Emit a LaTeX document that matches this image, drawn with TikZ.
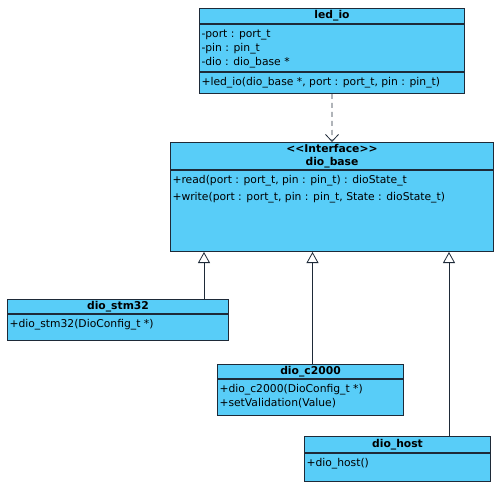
\documentclass[tikz,border=0pt]{standalone}
\usepackage{fontspec}
\setmainfont{DejaVu Sans}
\usetikzlibrary{arrows.meta,positioning}
\definecolor{classfill}{RGB}{88,205,248}
\definecolor{classline}{RGB}{30,42,56}
\tikzset{
  classhead/.style={draw=classline, fill=classfill, line width=1bp, inner sep=0pt,
    anchor=north west, align=center, font=\bfseries\fontsize{10.8}{13}\selectfont},
  classbody/.style={draw=classline, fill=classfill, line width=1bp, inner xsep=2bp,
    inner ysep=3bp, font=\fontsize{10.8}{14}\selectfont},
  realize/.style={draw=classline, line width=0.8bp, dash pattern=on 5bp off 4bp,
    -{Straight Barb[length=7bp,width=13bp]}},
  inherit/.style={draw=classline, line width=0.8bp,
    -{Triangle[open,length=11bp,width=12bp,fill=white]}}
}

\begin{document}
\begin{tikzpicture}[x=1bp, y=-1bp]
  \useasboundingbox (0,0) rectangle (500,483);
  % led_io
  \node[classhead, minimum width=265bp, minimum height=15bp] (ledio head) at (199,8) {led\_io};
  \node[classbody, below=0pt of ledio head] (ledio attr)
    {\parbox[t][41bp][t]{261bp}{\strut-port : port\_t\\-pin : pin\_t\\-dio : dio\_base *}};
  \node[classbody, below=0pt of ledio attr] (ledio ops)
    {\parbox[t][15bp][t]{261bp}{\strut+led\_io(dio\_base *, port : port\_t, pin : pin\_t)}};
  % dio_base
  \node[classhead, minimum width=323bp, minimum height=27bp] (base head) at (170,142)
    {<\kern0pt<Interface>\kern0pt>\\dio\_base};
  \node[classbody, below=0pt of base head] (base ops)
    {\parbox[t][75bp][t]{319bp}{\strut+read(port : port\_t, pin : pin\_t) : dioState\_t\\[3bp]
      +write(port : port\_t, pin : pin\_t, State : dioState\_t)}};
  % dio_stm32
  \node[classhead, minimum width=221bp, minimum height=14bp] (stm32 head) at (7,299) {dio\_stm32};
  \node[classbody, below=0pt of stm32 head] (stm32 ops)
    {\parbox[t][20bp][t]{217bp}{\strut+dio\_stm32(DioConfig\_t *)}};
  % dio_c2000
  \node[classhead, minimum width=186bp, minimum height=14bp] (c2000 head) at (217,364) {dio\_c2000};
  \node[classbody, below=0pt of c2000 head] (c2000 ops)
    {\parbox[t][30bp][t]{182bp}{\strut+dio\_c2000(DioConfig\_t *)\\+setValidation(Value)}};
  % dio_host
  \node[classhead, minimum width=186bp, minimum height=16bp] (host head) at (304,436) {dio\_host};
  \node[classbody, below=0pt of host head] (host ops)
    {\parbox[t][22bp][t]{182bp}{\strut+dio\_host()}};

  \draw[realize] (ledio ops.south) -- (base head.north);
  \draw[inherit] ([xshift=-25bp]stm32 head.north east)
    -- ([xshift=-25bp]stm32 head.north east |- base ops.south);
  \draw[inherit] ([xshift=2bp]c2000 head.north) -- ([xshift=2bp]c2000 head.north |- base ops.south);
  \draw[inherit] ([xshift=-42bp]host head.north east)
    -- ([xshift=-42bp]host head.north east |- base ops.south);
\end{tikzpicture}
\end{document}
